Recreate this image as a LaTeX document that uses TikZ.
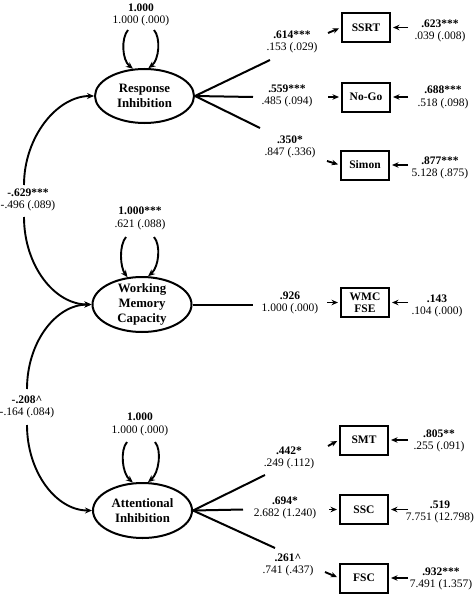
\documentclass[tikz,border=0pt]{standalone}
\usepackage{fontspec}
\setmainfont{Liberation Serif}
\usetikzlibrary{shapes.geometric,arrows.meta,calc}
\begin{document}
\begin{tikzpicture}[x=1pt,y=-1pt,
  lat/.style={ellipse,draw,line width=2pt,inner sep=0pt,minimum width=99pt,minimum height=54pt},
  latlab/.style={align=center,inner sep=0pt,font=\fontsize{12.8}{14.8}\selectfont\bfseries},
  obs/.style={rectangle,draw,line width=2pt,inner sep=0pt,minimum width=48pt,minimum height=29pt,align=center,font=\fontsize{11.5}{12}\selectfont\bfseries},
  val/.style={align=center,font=\fontsize{11.5}{12.5}\selectfont,inner sep=0pt},
  ln/.style={line width=2pt},
  arr/.style={line width=1.9pt,-{Stealth[length=7pt,width=6pt]}},
  sarr/.style={line width=1.9pt,-{Stealth[length=6.5pt,width=5.5pt]},shorten >=2pt},
]
\useasboundingbox (0,0) rectangle (474,594);

% latent variables
\node[lat] (ri) at (144.5,96) {};
\node[latlab] (riT) at (ri) {Response\\Inhibition};
\node[lat,minimum height=55pt] (wmc) at (142,304.5) {};
\node[latlab] (wmcT) at (wmc) {Working\\Memory\\Capacity};
\node[lat,minimum height=55pt] (ai) at (142.5,510.5) {};
\node[latlab] (aiT) at (ai) {Attentional\\Inhibition};

% observed variables
\node[obs] (ssrt) at (366,27.5) {SSRT};
\node[obs] (nogo) at (366,97) {No-Go};
\node[obs] (simon) at (365,165) {Simon};
\node[obs] (wmcfse) at (365,302.5) {WMC\\FSE};
\node[obs] (smt) at (364,440) {SMT};
\node[obs] (ssc) at (364,509.5) {SSC};
\node[obs] (fsc) at (364,578) {FSC};

% loading lines
\coordinate (l1) at (270,60);
\coordinate (l2) at (253,97);
\coordinate (l3) at (260,128);
\coordinate (l4) at (253,304.5);
\coordinate (l5) at (265,475);
\coordinate (l6) at (243,509.5);
\coordinate (l7) at (275,548);
\draw[ln] (ri.east) -- (l1);
\draw[ln] (ri.east) -- (l2);
\draw[ln] (ri.east) -- (l3);
\draw[ln] (wmc.east) -- (l4);
\draw[ln] (ai.east) -- (l5);
\draw[ln] (ai.east) -- (l6);
\draw[ln] (ai.east) -- (l7);

% loading labels
\node[val] (v1) at (292,42) {\textbf{.614***}\\.153 (.029)};
\node[val] (v2) at (287,96) {\textbf{.559***}\\.485 (.094)};
\node[val] (v3) at (290,147) {\textbf{.350*}\\.847 (.336)};
\node[val] (v4) at (290,303) {\textbf{.926}\\1.000 (.000)};
\node[val] (v5) at (289,458) {\textbf{.442*}\\.249 (.112)};
\node[val] (v6) at (285,508) {\textbf{.694*}\\2.682 (1.240)};
\node[val] (v7) at (288,565) {\textbf{.261\textasciicircum}\\.741 (.437)};

% short arrows into boxes
\coordinate (a1) at (328,33);
\coordinate (a2) at (328,97);
\coordinate (a3) at (327,161);
\coordinate (a4) at (327,302.5);
\coordinate (a5) at (328,446);
\coordinate (a6) at (329,509.5);
\coordinate (a7) at (325,572);
\draw[sarr] (a1) -- (ssrt.west);
\draw[sarr] (a2) -- (nogo.west);
\draw[sarr] (a3) -- (simon.west);
\draw[sarr] (a4) -- (wmcfse.west);
\draw[sarr] (a5) -- (smt.west);
\draw[sarr] (a6) -- (ssc.west);
\draw[sarr] (a7) -- (fsc.west);

% error arrows
\coordinate (e1) at (408,27.5);
\coordinate (e2) at (408,97);
\coordinate (e3) at (408,165);
\coordinate (e4) at (408,302.5);
\coordinate (e5) at (408,440);
\coordinate (e6) at (408,509.5);
\coordinate (e7) at (408,578);
\draw[sarr] (e1) -- (ssrt.east);
\draw[sarr] (e2) -- (nogo.east);
\draw[sarr] (e3) -- (simon.east);
\draw[sarr] (e4) -- (wmcfse.east);
\draw[sarr] (e5) -- (smt.east);
\draw[sarr] (e6) -- (ssc.east);
\draw[sarr] (e7) -- (fsc.east);

% error labels
\node[val] (r1) at (440,31) {\textbf{.623***}\\.039 (.008)};
\node[val] (r2) at (443,97.5) {\textbf{.688***}\\.518 (.098)};
\node[val] (r3) at (440,168) {\textbf{.877***}\\5.128 (.875)};
\node[val] (r4) at (437,306) {\textbf{.143}\\.104 (.000)};
\node[val] (r5) at (439,441) {\textbf{.805**}\\.255 (.091)};
\node[val] (r6) at (440,512) {\textbf{.519}\\7.751 (12.798)};
\node[val] (r7) at (441,579) {\textbf{.932***}\\7.491 (1.357)};

% variance loops
\node[val] (lr) at (141,15) {\textbf{1.000}\\1.000 (.000)};
\coordinate (lr1) at (128,30);
\coordinate (lr2) at (154,30);
\draw[arr] (lr1) .. controls (121,38) and (122,60) .. (ri.113);
\draw[arr] (lr2) .. controls (161,38) and (159,60) .. (ri.82);

\node[val] (lw) at (140,218.5) {\textbf{1.000***}\\.621 (.088)};
\coordinate (lw1) at (126,237);
\coordinate (lw2) at (154,237);
\draw[arr] (lw1) .. controls (119,245) and (120,267) .. (wmc.118);
\draw[arr] (lw2) .. controls (161,245) and (159,267) .. (wmc.78);

\node[val] (la) at (140,424.5) {\textbf{1.000}\\1.000 (.000)};
\coordinate (la1) at (127,442);
\coordinate (la2) at (155,442);
\draw[arr] (la1) .. controls (120,450) and (122,473) .. (ai.109);
\draw[arr] (la2) .. controls (162,450) and (159,473) .. (ai.79);

% covariances
\node[val] (c1) at (28,200) {\textbf{-.629***}\\-.496 (.089)};
\coordinate (c1a) at (24,185);
\coordinate (c1b) at (24,217);
\draw[arr] (c1a) .. controls (24,137) and (57,96) .. (ri.west);
\draw[arr] (c1b) .. controls (24,265) and (54,304.5) .. (wmc.west);

\node[val] (c2) at (27,407) {\textbf{-.208\textasciicircum}\\-.164 (.084)};
\coordinate (c2a) at (27,389);
\coordinate (c2b) at (27,425);
\draw[arr] (c2a) .. controls (27,342) and (56,304.5) .. (wmc.west);
\draw[arr] (c2b) .. controls (27,472) and (56,510.5) .. (ai.west);
\end{tikzpicture}
\end{document}
